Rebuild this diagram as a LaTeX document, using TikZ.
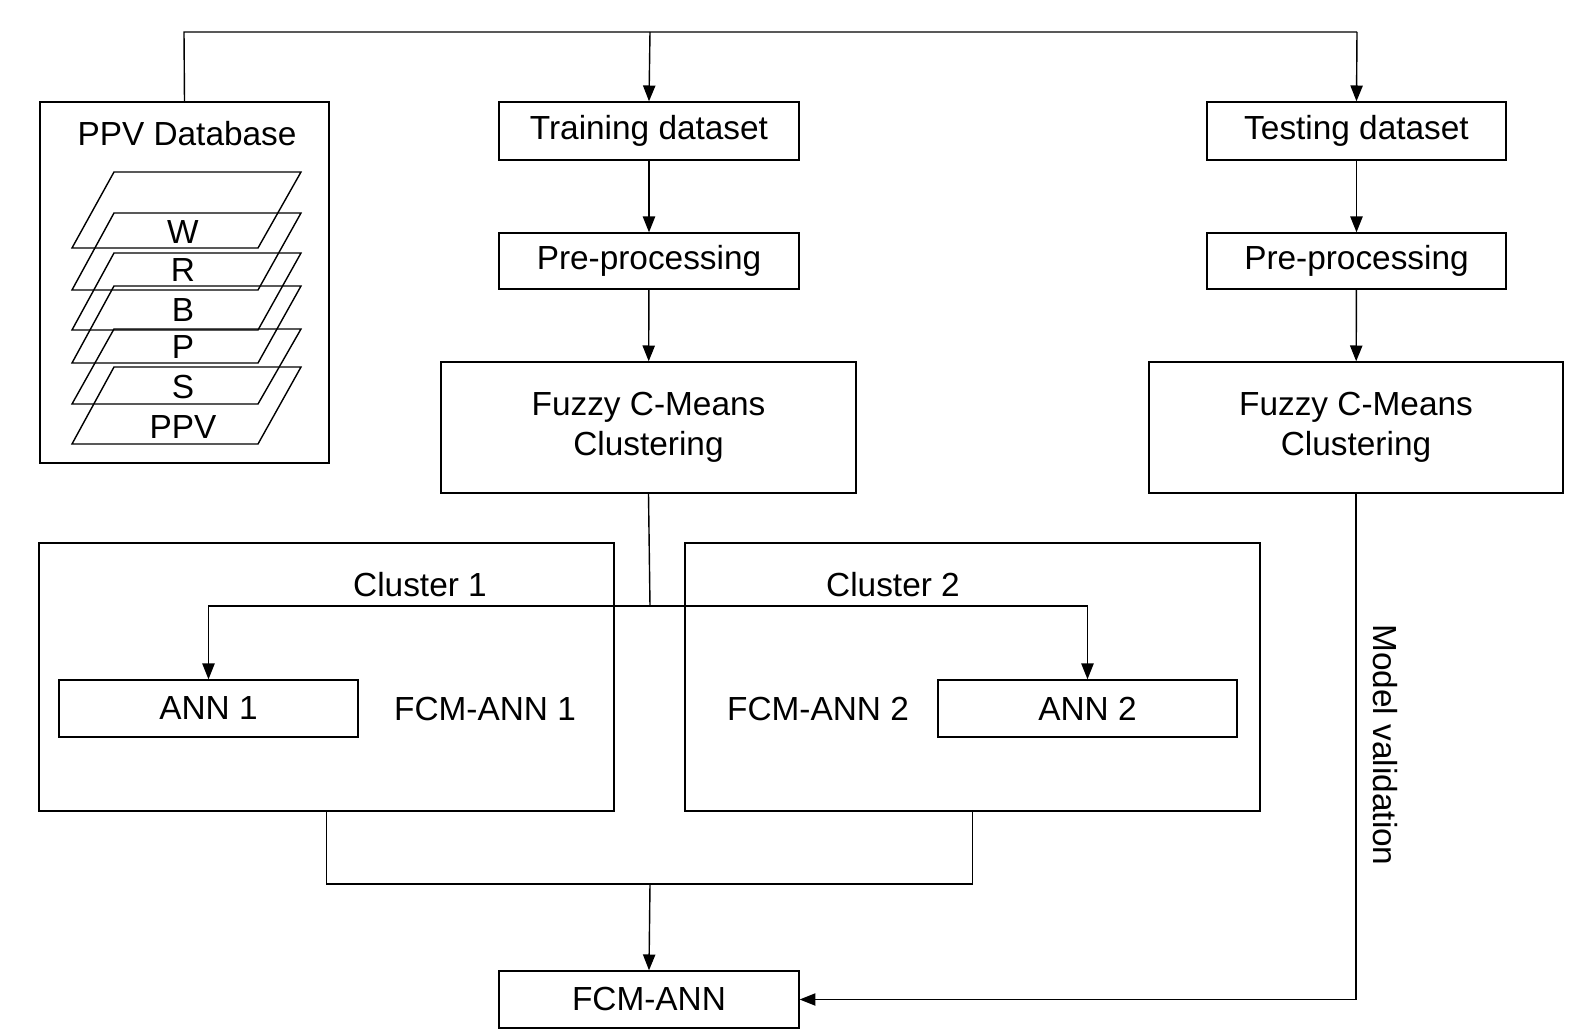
\documentclass[tikz,border=0pt]{standalone}
\usepackage{fontspec}
\setmainfont{Liberation Sans}
\usetikzlibrary{arrows.meta}

\tikzset{
  box/.style={draw, thick, inner sep=0pt, font=\fontsize{19}{23}\selectfont},
  lbl/.style={font=\fontsize{19}{23}\selectfont},
  arr/.style={thick, -{Triangle[length=9pt,width=7pt]}},
  ln/.style={thick}
}

\begin{document}
\begin{tikzpicture}[x=0.02cm,y=-0.02cm]
\useasboundingbox (0,0) rectangle (1573,1034);
% database
\node[box, minimum width=5.78cm, minimum height=7.22cm] (db) at (184.5,282.5) {};
\node[lbl] at (187,134) {PPV Database};
\foreach \t/\b/\name in {172/248/W,213/290/R,253/330/B,286/363/P,329/404/S,367/444/PPV}
  \draw[thick] (72,\b) -- (114,\t) -- (301,\t) -- (258,\b) -- cycle;
\foreach \y/\name in {232/W,270/R,310/B,347/P,387/S,427/PPV}
  \node[lbl] at (183,\y) {\name};
% training side
\node[box, minimum width=6cm, minimum height=1.16cm] (train) at (649,131) {Training dataset};
\node[box, minimum width=6cm, minimum height=1.12cm] (pre1) at (649,261) {Pre-processing};
\node[box, minimum width=8.3cm, minimum height=2.62cm, align=center] (fcm1) at (648.5,427.5) {Fuzzy C-Means\\Clustering};
% testing side
\node[box, minimum width=5.98cm, minimum height=1.16cm] (test) at (1356.5,131) {Testing dataset};
\node[box, minimum width=5.98cm, minimum height=1.12cm] (pre2) at (1356.5,261) {Pre-processing};
\node[box, minimum width=8.28cm, minimum height=2.62cm, align=center] (fcm2) at (1356,427.5) {Fuzzy C-Means\\Clustering};
% clusters
\node[box, minimum width=11.5cm, minimum height=5.36cm] (c1) at (326.5,677) {};
\node[box, minimum width=11.5cm, minimum height=5.36cm] (c2) at (972.5,677) {};
\node[lbl] at (420,585) {Cluster 1};
\node[lbl] at (893,585) {Cluster 2};
\node[box, minimum width=5.98cm, minimum height=1.14cm] (ann1) at (208.5,708.5) {ANN 1};
\node[box, minimum width=5.98cm, minimum height=1.14cm] (ann2) at (1087.5,708.5) {ANN 2};
\node[lbl] at (485,709) {FCM-ANN 1};
\node[lbl] at (818,709) {FCM-ANN 2};
\node[box, minimum width=6cm, minimum height=1.14cm] (fcmann) at (649,999.5) {FCM-ANN};
\coordinate (top) at (184,32);
\coordinate (split) at (650,606);
\coordinate (join) at (650,884);
% connectors
\draw[ln] (db.north) -- (top) -- (1357,32);
\draw[arr] (650,32) -- (train.north);
\draw[arr] (1357,32) -- (test.north);
\draw[arr] (train) -- (pre1);
\draw[arr] (pre1) -- (fcm1);
\draw[arr] (test) -- (pre2);
\draw[arr] (pre2) -- (fcm2);
\draw[ln] (fcm1.south) -- (split);
\draw[arr] (split) -| (ann1.north);
\draw[arr] (split) -| (ann2.north);
\draw[ln] (c1.south) |- (join) -| (c2.south);
\draw[arr] (join) -- (fcmann.north);
\draw[arr] (fcm2.south) |- (fcmann.east);
\node[lbl, rotate=-90] at (1385,745) {Model validation};
\end{tikzpicture}
\end{document}
